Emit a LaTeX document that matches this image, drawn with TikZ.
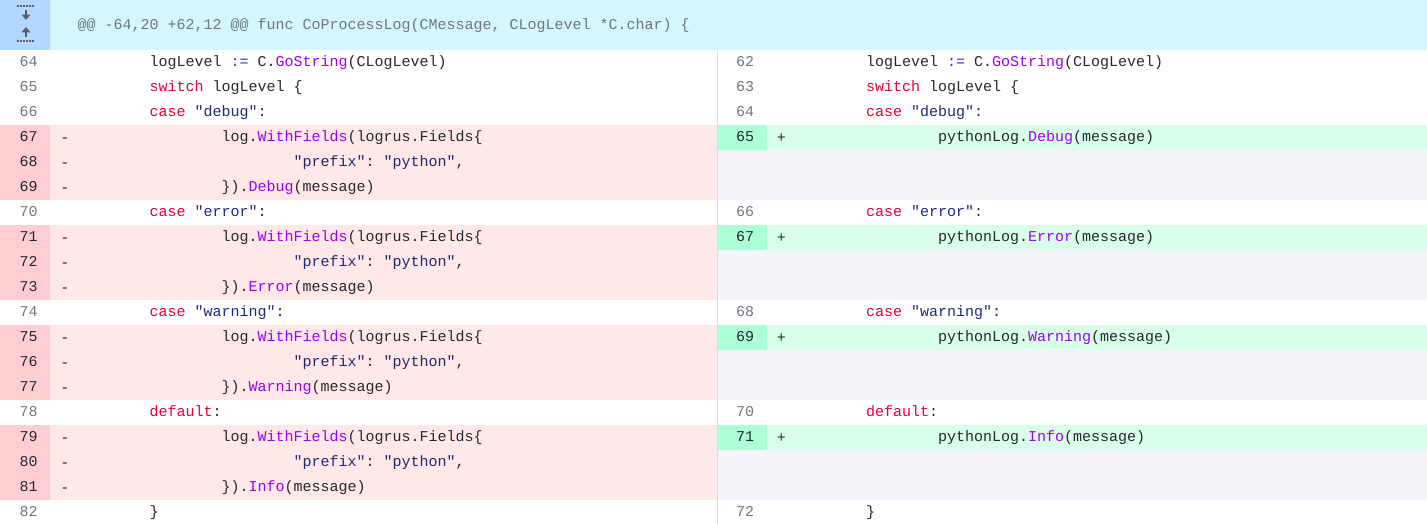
\documentclass[tikz,border=0pt]{standalone}
\usepackage{fontspec}
\newfontfamily\codefont{Liberation Mono}
\usetikzlibrary{positioning,arrows.meta}
\definecolor{HunkBlue}{HTML}{D6F6FF}
\definecolor{ExpandBlue}{HTML}{B3D8FF}
\definecolor{DelLine}{HTML}{FFE8E8}
\definecolor{DelNum}{HTML}{FFCDD2}
\definecolor{AddLine}{HTML}{D9FFEA}
\definecolor{AddNum}{HTML}{ADFFD6}
\definecolor{EmptyLine}{HTML}{F4F5FA}
\definecolor{DivLine}{HTML}{D9DCE6}
\definecolor{NumGray}{HTML}{6E7781}
\definecolor{CodeInk}{HTML}{24292F}
\definecolor{KwRed}{HTML}{E6003C}
\definecolor{StrBlue}{HTML}{1F2A75}
\definecolor{FnPurple}{HTML}{A000F0}
\definecolor{OpBlue}{HTML}{3030C8}
\newcommand{\kw}[1]{\textcolor{KwRed}{#1}}
\newcommand{\str}[1]{\textcolor{StrBlue}{#1}}
\newcommand{\fn}[1]{\textcolor{FnPurple}{#1}}
\newcommand{\op}[1]{\textcolor{OpBlue}{#1}}
\tikzset{
    code/.style={anchor=base west,inner sep=0pt,text=CodeInk,font=\codefont\fontsize{11.25pt}{13pt}\selectfont\frenchspacing},
    lineno/.style={anchor=base east,inner sep=0pt,text=NumGray,font=\codefont\fontsize{11.25pt}{13pt}\selectfont},
    linenodark/.style={lineno,text=CodeInk},
}
\begin{document}
\begin{tikzpicture}[x=0.75pt,y=-0.75pt,>=latex]
        \useasboundingbox (0,0) rectangle (1427,524);
        \clip (0,0) rectangle (1427,524);
        % hunk header
        \fill[HunkBlue] (0,0) rectangle (1427,50);
        \fill[ExpandBlue] (0,0) rectangle (50,50);
        \coordinate (dotsA) at (17,6);
        \coordinate (dotsAend) at (35,6);
        \coordinate (dotsB) at (17,41);
        \coordinate (dotsBend) at (35,41);
        \coordinate (downA) at (26,10);
        \coordinate (downB) at (26,20);
        \coordinate (upA) at (26,37);
        \coordinate (upB) at (26,27);
        \draw[CodeInk!75,line width=1.2pt,dash pattern=on 1.5pt off 0.75pt] (dotsA) -- (dotsAend);
        \draw[CodeInk!75,line width=1.2pt,dash pattern=on 1.5pt off 0.75pt] (dotsB) -- (dotsBend);
        \draw[-{Triangle[length=4pt,width=6.5pt]},CodeInk!75,line width=1.5pt] (downA) -- (downB);
        \draw[-{Triangle[length=4pt,width=6.5pt]},CodeInk!75,line width=1.5pt] (upA) -- (upB);
        \node[code,text=NumGray] (hunk) at (77.3,30) {@@ -64,20 +62,12 @@ func CoProcessLog(CMessage, CLogLevel *C.char) \{};
        % left side removed rows
        \foreach \r in {3,4,5,7,8,9,11,12,13,15,16,17} {
            \fill[DelLine] (50,50+25*\r) rectangle (717,75+25*\r);
            \fill[DelNum] (0,50+25*\r) rectangle (50,75+25*\r);
        }
        % right side added rows
        \foreach \r in {3,7,11,15} {
            \fill[AddLine] (767,50+25*\r) rectangle (1427,75+25*\r);
            \fill[AddNum] (718,50+25*\r) rectangle (767,75+25*\r);
        }
        % right side empty rows
        \foreach \r in {4,5,8,9,12,13,16,17} {
            \fill[EmptyLine] (718,50+25*\r) rectangle (1427,75+25*\r);
        }
        \draw[DivLine,line width=0.75pt] (717.5,50) -- (717.5,524);
        % left side text
        \foreach \r/\n/\x/\txt in {
            0/64/149.3/{logLevel \op{:=} C.\fn{GoString}(CLogLevel)},
            1/65/149.3/{\kw{switch} logLevel \{},
            2/66/149.3/{\kw{case} \str{"debug"}:},
            6/70/149.3/{\kw{case} \str{"error"}:},
            10/74/149.3/{\kw{case} \str{"warning"}:},
            14/78/149.3/{\kw{default}:},
            18/82/149.3/{\}}} {
            \node[lineno] (ln\n) at (38,66.6+25*\r) {\n};
            \node[code] (lc\n) at (\x,66.6+25*\r) {\txt};
        }
        \foreach \r/\n/\x/\txt in {
            3/67/221.3/{log.\fn{WithFields}(logrus.Fields\{},
            4/68/293.3/{\str{"prefix"}: \str{"python"},},
            5/69/221.3/{\}).\fn{Debug}(message)},
            7/71/221.3/{log.\fn{WithFields}(logrus.Fields\{},
            8/72/293.3/{\str{"prefix"}: \str{"python"},},
            9/73/221.3/{\}).\fn{Error}(message)},
            11/75/221.3/{log.\fn{WithFields}(logrus.Fields\{},
            12/76/293.3/{\str{"prefix"}: \str{"python"},},
            13/77/221.3/{\}).\fn{Warning}(message)},
            15/79/221.3/{log.\fn{WithFields}(logrus.Fields\{},
            16/80/293.3/{\str{"prefix"}: \str{"python"},},
            17/81/221.3/{\}).\fn{Info}(message)}} {
            \node[linenodark] (ln\n) at (38,66.6+25*\r) {\n};
            \node[code] (lm\n) at (60,67.4+25*\r) {-};
            \node[code] (lc\n) at (\x,66.6+25*\r) {\txt};
        }
        % right side text
        \foreach \r/\n/\txt in {
            0/62/{logLevel \op{:=} C.\fn{GoString}(CLogLevel)},
            1/63/{\kw{switch} logLevel \{},
            2/64/{\kw{case} \str{"debug"}:},
            6/66/{\kw{case} \str{"error"}:},
            10/68/{\kw{case} \str{"warning"}:},
            14/70/{\kw{default}:},
            18/72/{\}}} {
            \node[lineno] (rn\n) at (754.4,66.6+25*\r) {\n};
            \node[code] (rc\n) at (865.8,66.6+25*\r) {\txt};
        }
        \foreach \r/\n/\txt in {
            3/65/{pythonLog.\fn{Debug}(message)},
            7/67/{pythonLog.\fn{Error}(message)},
            11/69/{pythonLog.\fn{Warning}(message)},
            15/71/{pythonLog.\fn{Info}(message)}} {
            \node[linenodark] (rn\n) at (754.4,66.6+25*\r) {\n};
            \node[code] (rm\n) at (776.5,67.4+25*\r) {+};
            \node[code] (rc\n) at (937.8,66.6+25*\r) {\txt};
        }
    \end{tikzpicture}
\end{document}
